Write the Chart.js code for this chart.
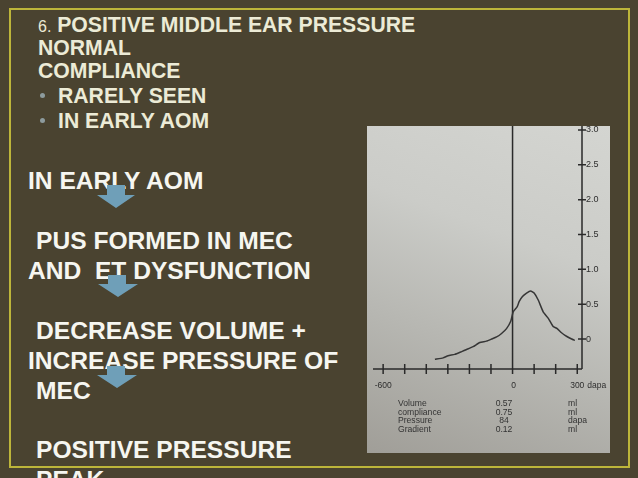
<!DOCTYPE html>
<html>
<head>
<meta charset="utf-8">
<script src="https://cdn.jsdelivr.net/npm/chart.js@4/dist/chart.umd.min.js"></script>
<style>
  html, body { margin:0; padding:0; }
  body { width:638px; height:478px; overflow:hidden; position:relative; background:#4a4330; font-family:"Liberation Sans", Arial, sans-serif; }
  .frame { position:absolute; left:9px; top:8px; width:621px; height:460px; box-sizing:border-box; border:2px solid #bdb53a; }
  .t { position:absolute; white-space:pre; font-weight:bold; line-height:1; }
  .h { font-size:21.2px; color:#ecebd6; }
  .b { font-size:24.6px; color:#f6f6f0; }
  .bullet { position:absolute; width:5px; height:5px; border-radius:50%; background:#8d9b9d; }
  .arrow { position:absolute; }
  .photo { position:absolute; left:367px; top:126px; width:243px; height:327px;
           background:linear-gradient(200deg, #d4d5d1 0%, #cbccc8 35%, #b7b7b2 65%, #a09e98 100%); overflow:hidden; }
  .photo canvas { position:absolute; left:0; top:0; }
  .info { position:absolute; font-size:8.6px; color:#333; line-height:1; white-space:pre; }
</style>
</head>
<body>
<div class="frame"></div>

<div class="t h" style="left:38px; top:14px;"><span style="font-weight:normal;font-size:16px">6.</span> POSITIVE MIDDLE EAR PRESSURE</div>
<div class="t h" style="left:38px; top:37px;">NORMAL</div>
<div class="t h" style="left:38px; top:59.5px;">COMPLIANCE</div>
<div class="bullet" style="left:40px; top:93px;"></div>
<div class="t h" style="left:58px; top:85px;">RARELY SEEN</div>
<div class="bullet" style="left:40px; top:118px;"></div>
<div class="t h" style="left:58px; top:110px;">IN EARLY AOM</div>

<div class="t b" style="left:28px; top:168.5px;">IN EARLY AOM</div>
<div class="t b" style="left:36px; top:229.2px;">PUS FORMED IN MEC</div>
<div class="t b" style="left:28px; top:259.2px;">AND  ET DYSFUNCTION</div>
<div class="t b" style="left:36px; top:319.2px;">DECREASE VOLUME +</div>
<div class="t b" style="left:28px; top:349.2px;">INCREASE PRESSURE OF</div>
<div class="t b" style="left:36px; top:379.2px;">MEC</div>
<div class="t b" style="left:36px; top:438.2px;">POSITIVE PRESSURE</div>
<div class="t b" style="left:36px; top:468.2px;">PEAK</div>

<svg class="arrow" style="left:97px; top:185px;" width="38" height="24" viewBox="0 0 38 24"><polygon points="10,0 28,0 28,10 38,10 19,23 0,10 10,10" fill="#6f9fb8"/></svg>
<svg class="arrow" style="left:98px; top:275px;" width="40" height="23" viewBox="0 0 40 23"><polygon points="10,0 28,0 28,9 40,9 20,22 0,9 10,9" fill="#6f9fb8"/></svg>
<svg class="arrow" style="left:97px; top:366px;" width="40" height="23" viewBox="0 0 40 23"><polygon points="10,0 28,0 28,9 40,9 20,22 0,9 10,9" fill="#6f9fb8"/></svg>

<div class="photo">
  <canvas id="c" width="243" height="327"></canvas>
  <div class="info" style="left:31px; top:273px;">Volume
compliance
Pressure
Gradient</div>
  <div class="info" style="left:125px; top:273px; width:24px; text-align:center;">0.57
0.75
84
0.12</div>
  <div class="info" style="left:201px; top:273px;">ml
ml
dapa
ml</div>
</div>

<script>
// Tympanogram data (pressure in daPa, compliance in ml)
const pressure = [-360,-322,-299,-268,-236,-213,-183,-152,-121,-97,-74,-51,-28,-8,3,21,31,46,65,84,100,119,142,165,188,207,227,250,274,289];
const compliance = [-0.29,-0.27,-0.24,-0.22,-0.18,-0.15,-0.11,-0.05,-0.03,0.00,0.03,0.08,0.15,0.26,0.39,0.46,0.54,0.61,0.66,0.69,0.66,0.56,0.39,0.30,0.18,0.15,0.09,0.04,0.00,-0.02];
const xTicks = [-600,-500,-400,-300,-200,-100,0,100,200,300];
const xTickLabels = {"-600":"-600","0":"0","300":"300"};
const yTicks = [0,0.5,1,1.5,2,2.5,3];
const yTickLabels = ["0","0.5","1.0","1.5","2.0","2.5","3.0"];

const points = pressure.map((p,i)=>({x:p, y:compliance[i]}));

const axesPlugin = {
  id:'axesPlugin',
  beforeDatasetsDraw(chart){
    const {ctx, chartArea:{left,right,top,bottom}, scales:{x,y}} = chart;
    ctx.save();
    ctx.strokeStyle = '#2a2a2a';
    ctx.lineWidth = 1.5;
    ctx.beginPath();
    ctx.moveTo(left, bottom); ctx.lineTo(right, bottom);
    ctx.moveTo(right, top); ctx.lineTo(right, bottom);
    const x0 = x.getPixelForValue(0);
    ctx.moveTo(x0, top); ctx.lineTo(x0, bottom);
    xTicks.forEach(v=>{ const px = x.getPixelForValue(v); ctx.moveTo(px, bottom-5); ctx.lineTo(px, bottom+5); });
    yTicks.forEach(v=>{ const py = y.getPixelForValue(v); ctx.moveTo(right-4, py); ctx.lineTo(right+4, py); });
    ctx.stroke();
    ctx.fillStyle = '#2e2e2e';
    ctx.font = '9px "Liberation Sans", Arial, sans-serif';
    ctx.textBaseline = 'middle';
    ctx.textAlign = 'left';
    yTicks.forEach((v,i)=>{ ctx.fillText(yTickLabels[i], right+4, y.getPixelForValue(v)); });
    ctx.font = '8.5px "Liberation Sans", Arial, sans-serif';
    ctx.textAlign = 'center';
    xTicks.forEach(v=>{
      const lab = xTickLabels[String(v)];
      if (lab) ctx.fillText(lab, x.getPixelForValue(v) + (v===0?1:0), bottom+17);
    });
    ctx.textAlign = 'left';
    ctx.fillText('dapa', x.getPixelForValue(300)+10, bottom+17);
    ctx.restore();
  }
};

new Chart(document.getElementById('c'), {
  type:'line',
  data:{ datasets:[{ data:points, borderColor:'#363636', borderWidth:1.5, pointRadius:0, tension:0.15, fill:false }] },
  options:{
    responsive:false, animation:false,
    layout:{ padding:{ left:6, right:28, top:0, bottom:84 } },
    plugins:{ legend:{display:false}, tooltip:{enabled:false} },
    scales:{
      x:{ type:'linear', min:-647, max:322, display:false },
      y:{ type:'linear', min:-0.43, max:3.057, display:false }
    }
  },
  plugins:[axesPlugin]
});
</script>
</body>
</html>
